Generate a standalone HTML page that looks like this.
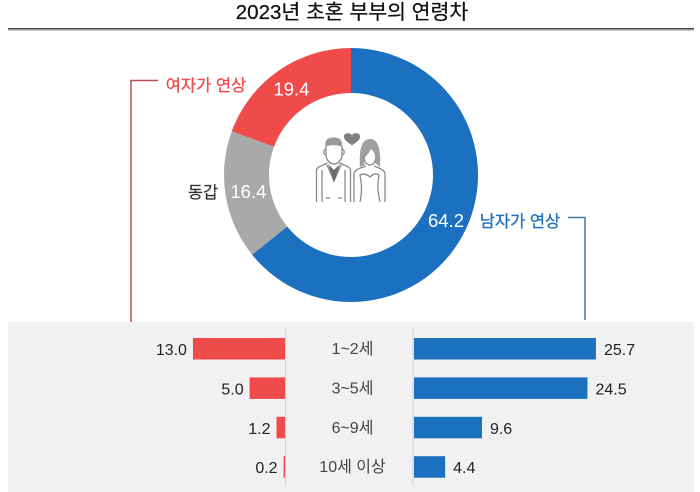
<!DOCTYPE html>
<html lang="ko">
<head>
<meta charset="utf-8">
<style>
html,body{margin:0;padding:0;background:#fff;}
body{width:700px;height:492px;overflow:hidden;}
svg{display:block;}
text{font-family:"Liberation Sans","Noto Sans CJK KR",sans-serif;}
</style>
</head>
<body>
<svg id="chart" width="700" height="492" viewBox="0 0 700 492" xmlns="http://www.w3.org/2000/svg">
  <text x="352" y="19" text-anchor="middle" font-size="20.500" fill="#111" stroke="#111" stroke-width="0.250">2023년 초혼 부부의 연령차</text>
  <rect x="8" y="28" width="686" height="2.500" fill="#999"/>
  <rect x="8" y="28" width="686" height="1" fill="#444"/>
  <rect x="8" y="322" width="686" height="170" fill="#f1f1f1"/>
  <path d="M131 322V80.500H158" fill="none" stroke="#b9504f" stroke-width="1.500"/>
  <path d="M568 217.500H585V320" fill="none" stroke="#3f78a8" stroke-width="1.500"/>
  <g id="donut"></g>
  <text x="206" y="91" text-anchor="middle" font-size="16.500" fill="#ef4b4b" stroke="#ef4b4b" stroke-width="0.300">여자가 연상</text>
  <text x="203" y="198" text-anchor="middle" font-size="16.500" fill="#333" stroke="#333" stroke-width="0.200">동갑</text>
  <text x="520" y="227" text-anchor="middle" font-size="16.500" fill="#1b70bf" stroke="#1b70bf" stroke-width="0.300">남자가 연상</text>
  <g fill="none" stroke="#8a8a8a" stroke-width="1.300">
    <path d="M352 145.500c-3-3-7-4-8-8c-1-4.500 5.500-6 8-2.500c2.500-3.500 9-2 8 2.500c-1 4-5 5-8 8z" fill="#808080" stroke="none"/>
    <path d="M325.500 147c-1-7 2-9.500 8-9.500s9.500 2.500 8.500 9.500c-3-2.500-14-2.500-16.500 0z" fill="#999" stroke="none"/>
    <path d="M326 146v9c0 5 4 9 8 9s8-4 8-9v-9"/>
    <path d="M326 149c-3 0-3 6 0 6M342 149c3 0 3 6 0 6"/>
    <path d="M316.500 202v-32c0-3 5-4 11-7M350.500 202v-32c0-3-5-4-11-7M322 202v-32M345 202v-32M327 165l7 16l7-16"/>
    <path d="M328 164l6 18l6-18l-6 6z" fill="#6a6a6a" stroke="none"/>
    <path d="M326 198h4M338 198h4"/>
    <path d="M360 167c-1-16 1-28 10-28s11 12 10 28l-5-4c1-6 0-11-4-14c-2 5-6 7-7 11c0 2 0 3 1 5z" fill="#a0a0a0" stroke="none"/>
    <path d="M364 156c0 6 3 9 6 9s6-3 6-9"/>
    <path d="M354 202v-28c0-4 6-6 12-8M385 202v-28c0-4-6-6-11-8M360 202c2-10 2-16 0-27c4-2 7-1 10 2c3-3 6-4 9-2c-2 11-1 17 1 27"/>
  </g>
  <g id="bars"></g>
</svg>
<script>
var donutLabels = ['남자가 연상', '동갑', '여자가 연상'];
var donutValues = [64.2, 16.4, 19.4];
var categories = ['1~2세', '3~5세', '6~9세', '10세 이상'];
var femaleValues = [13.0, 5.0, 1.2, 0.2];
var maleValues = [25.7, 24.5, 9.6, 4.4];

var NS = 'http://www.w3.org/2000/svg';
function make(tag, attrs, parent) {
  var el = document.createElementNS(NS, tag);
  for (var k in attrs) el.setAttribute(k, attrs[k]);
  parent.appendChild(el);
  return el;
}

var donutColors = ['#1b70bf', '#a9a9a9', '#ef4b4b'];
var cx = 351, cy = 175, outerR = 127, innerR = 82;
var donutGroup = document.getElementById('donut');
var donutTotal = donutValues.reduce(function (a, b) { return a + b; }, 0);
function angleOf(v) { return v / donutTotal * 2 * Math.PI; }
function polar(r, a) { return [cx + r * Math.sin(a), cy - r * Math.cos(a)]; }
var cumulative = 0;
donutValues.forEach(function (v, i) {
  var a0 = angleOf(cumulative), a1 = angleOf(cumulative + v);
  var large = (a1 - a0) > Math.PI ? 1 : 0;
  var p0 = polar(outerR, a0), p1 = polar(outerR, a1), p2 = polar(innerR, a1), p3 = polar(innerR, a0);
  var slice = make('path', {
    d: 'M' + p0 + 'A' + outerR + ' ' + outerR + ' 0 ' + large + ' 1 ' + p1 +
       'L' + p2 + 'A' + innerR + ' ' + innerR + ' 0 ' + large + ' 0 ' + p3 + 'Z',
    fill: donutColors[i]
  }, donutGroup);
  
  
  var mid = (a0 + a1) / 2;
  var lp = polar(104, mid);
  var label = make('text', {
    x: i === 0 ? 446 : lp[0],
    y: i === 0 ? 227 : lp[1] + 6,
    'text-anchor': 'middle',
    'font-size': 18.5,
    fill: '#fff'
  }, donutGroup);
  
  
  label.textContent = v.toFixed(1);
  cumulative += v;
});

var barGroup = document.getElementById('bars');
var leftBase = 285, rightBase = 414, unit = 7.08;
var firstBarTop = 338, barStep = 39.4, barHeight = 21.5;
function xLeft(v) { return leftBase - v * unit; }
function xRight(v) { return rightBase + v * unit; }
function yBand(i) { return firstBarTop + i * barStep; }

[285.5, 413].forEach(function (x) {
  var axis = make('line', { x1: x, x2: x, y1: 329, y2: 486, stroke: '#d4d4d4', 'stroke-width': 1.2 }, barGroup);
  
  
});

categories.forEach(function (c, i) {
  var y = yBand(i);
  var lx = xLeft(femaleValues[i]);
  var fb = make('rect', { x: lx, y: y, width: leftBase - lx, height: barHeight, fill: '#ef4b4b' }, barGroup);
  
  
  var rx = xRight(maleValues[i]);
  var mb = make('rect', { x: rightBase, y: y, width: rx - rightBase, height: barHeight, fill: '#1b70bf' }, barGroup);
  
  
  var fv = make('text', { x: lx - 6, y: y + 17, 'text-anchor': 'end', 'font-size': 16, fill: '#222' }, barGroup);
  
  
  fv.textContent = femaleValues[i].toFixed(1);
  var mv = make('text', { x: rx + 8, y: y + 17, 'text-anchor': 'start', 'font-size': 16, fill: '#222' }, barGroup);
  
  
  mv.textContent = maleValues[i].toFixed(1);
  var cat = make('text', { x: 352.5, y: y + 16, 'text-anchor': 'middle', 'font-size': 16, fill: '#444' }, barGroup);
  
  
  cat.textContent = c;
});
</script>
</body>
</html>
